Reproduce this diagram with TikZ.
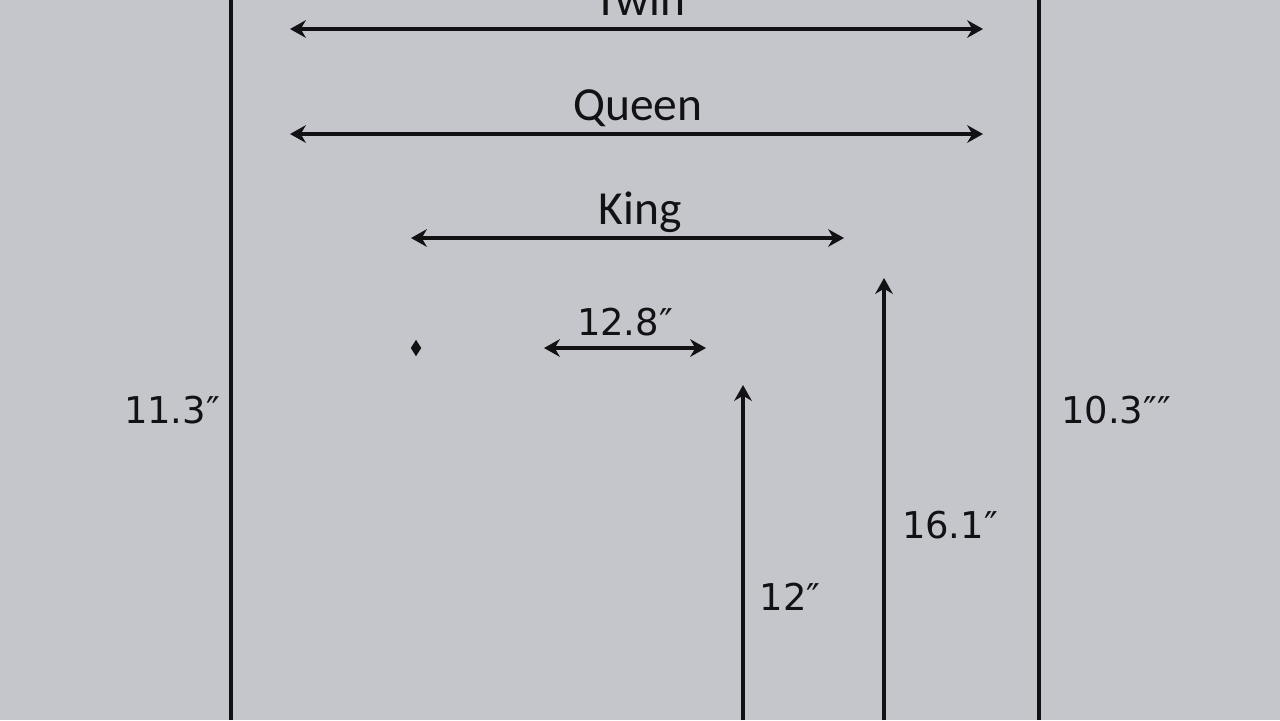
\documentclass[tikz,border=0pt]{standalone}
\usepackage{fontspec}
\setmainfont{Carlito}
\newfontfamily\numfont{DejaVu Sans}
\usetikzlibrary{arrows.meta,shapes.geometric}
\definecolor{bg}{RGB}{197,198,204}
\definecolor{ink}{RGB}{18,18,20}
\tikzset{
  dim/.style={draw=ink, line width=1.05pt, {Stealth[length=4.5pt,width=5pt]}-{Stealth[length=4.5pt,width=5pt]}},
  upar/.style={draw=ink, line width=1.05pt, -{Stealth[length=4.5pt,width=5pt]}},
  frame/.style={draw=ink, line width=1.1pt},
  word/.style={text=ink, font=\fontsize{13.5}{15}\selectfont, inner sep=0pt},
  num/.style={text=ink, font=\numfont\fontsize{10.5}{12}\selectfont, inner sep=0pt},
  tick/.style={diamond, fill=ink, inner sep=0pt, minimum width=0.11cm, minimum height=0.17cm}
}
\begin{document}
\begin{tikzpicture}[x=0.01cm, y=-0.01cm]
\fill[bg] (0,0) rectangle (1280,720);
\useasboundingbox (0,0) rectangle (1280,720);
% frame lines
\coordinate (lt) at (231,0); \coordinate (lb) at (231,720);
\coordinate (rt) at (1039,0); \coordinate (rb) at (1039,720);
\draw[frame] (lt) -- (lb);
\draw[frame] (rt) -- (rb);
% horizontal dimension arrows
\coordinate (tw1) at (290,29); \coordinate (tw2) at (983,29);
\draw[dim] (tw1) -- (tw2);
\node[word, anchor=base] (twin) at (640,15) {Twin};
\coordinate (q1) at (290,134); \coordinate (q2) at (983,134);
\draw[dim] (q1) -- (q2);
\node[word] (queen) at (638,108) {Queen};
\coordinate (k1) at (411,238); \coordinate (k2) at (844,238);
\draw[dim] (k1) -- (k2);
\node[word] (king) at (640,212) {King};
\node[tick] (dot) at (416,348) {};
\coordinate (s1) at (544,348); \coordinate (s2) at (706,348);
\draw[dim] (s1) -- (s2);
\node[num] (w128) at (625,322) {12.8″};
% vertical arrows
\coordinate (v1b) at (743,720); \coordinate (v1t) at (743,385);
\draw[upar] (v1b) -- (v1t);
\node[num] (h12) at (790,597) {12″};
\coordinate (v2b) at (884,720); \coordinate (v2t) at (884,278);
\draw[upar] (v2b) -- (v2t);
\node[num] (h161) at (950,525) {16.1″};
% side labels
\node[num] (l113) at (172,410) {11.3″};
\node[num] (r103) at (1116,410) {10.3″″};
\end{tikzpicture}
\end{document}
